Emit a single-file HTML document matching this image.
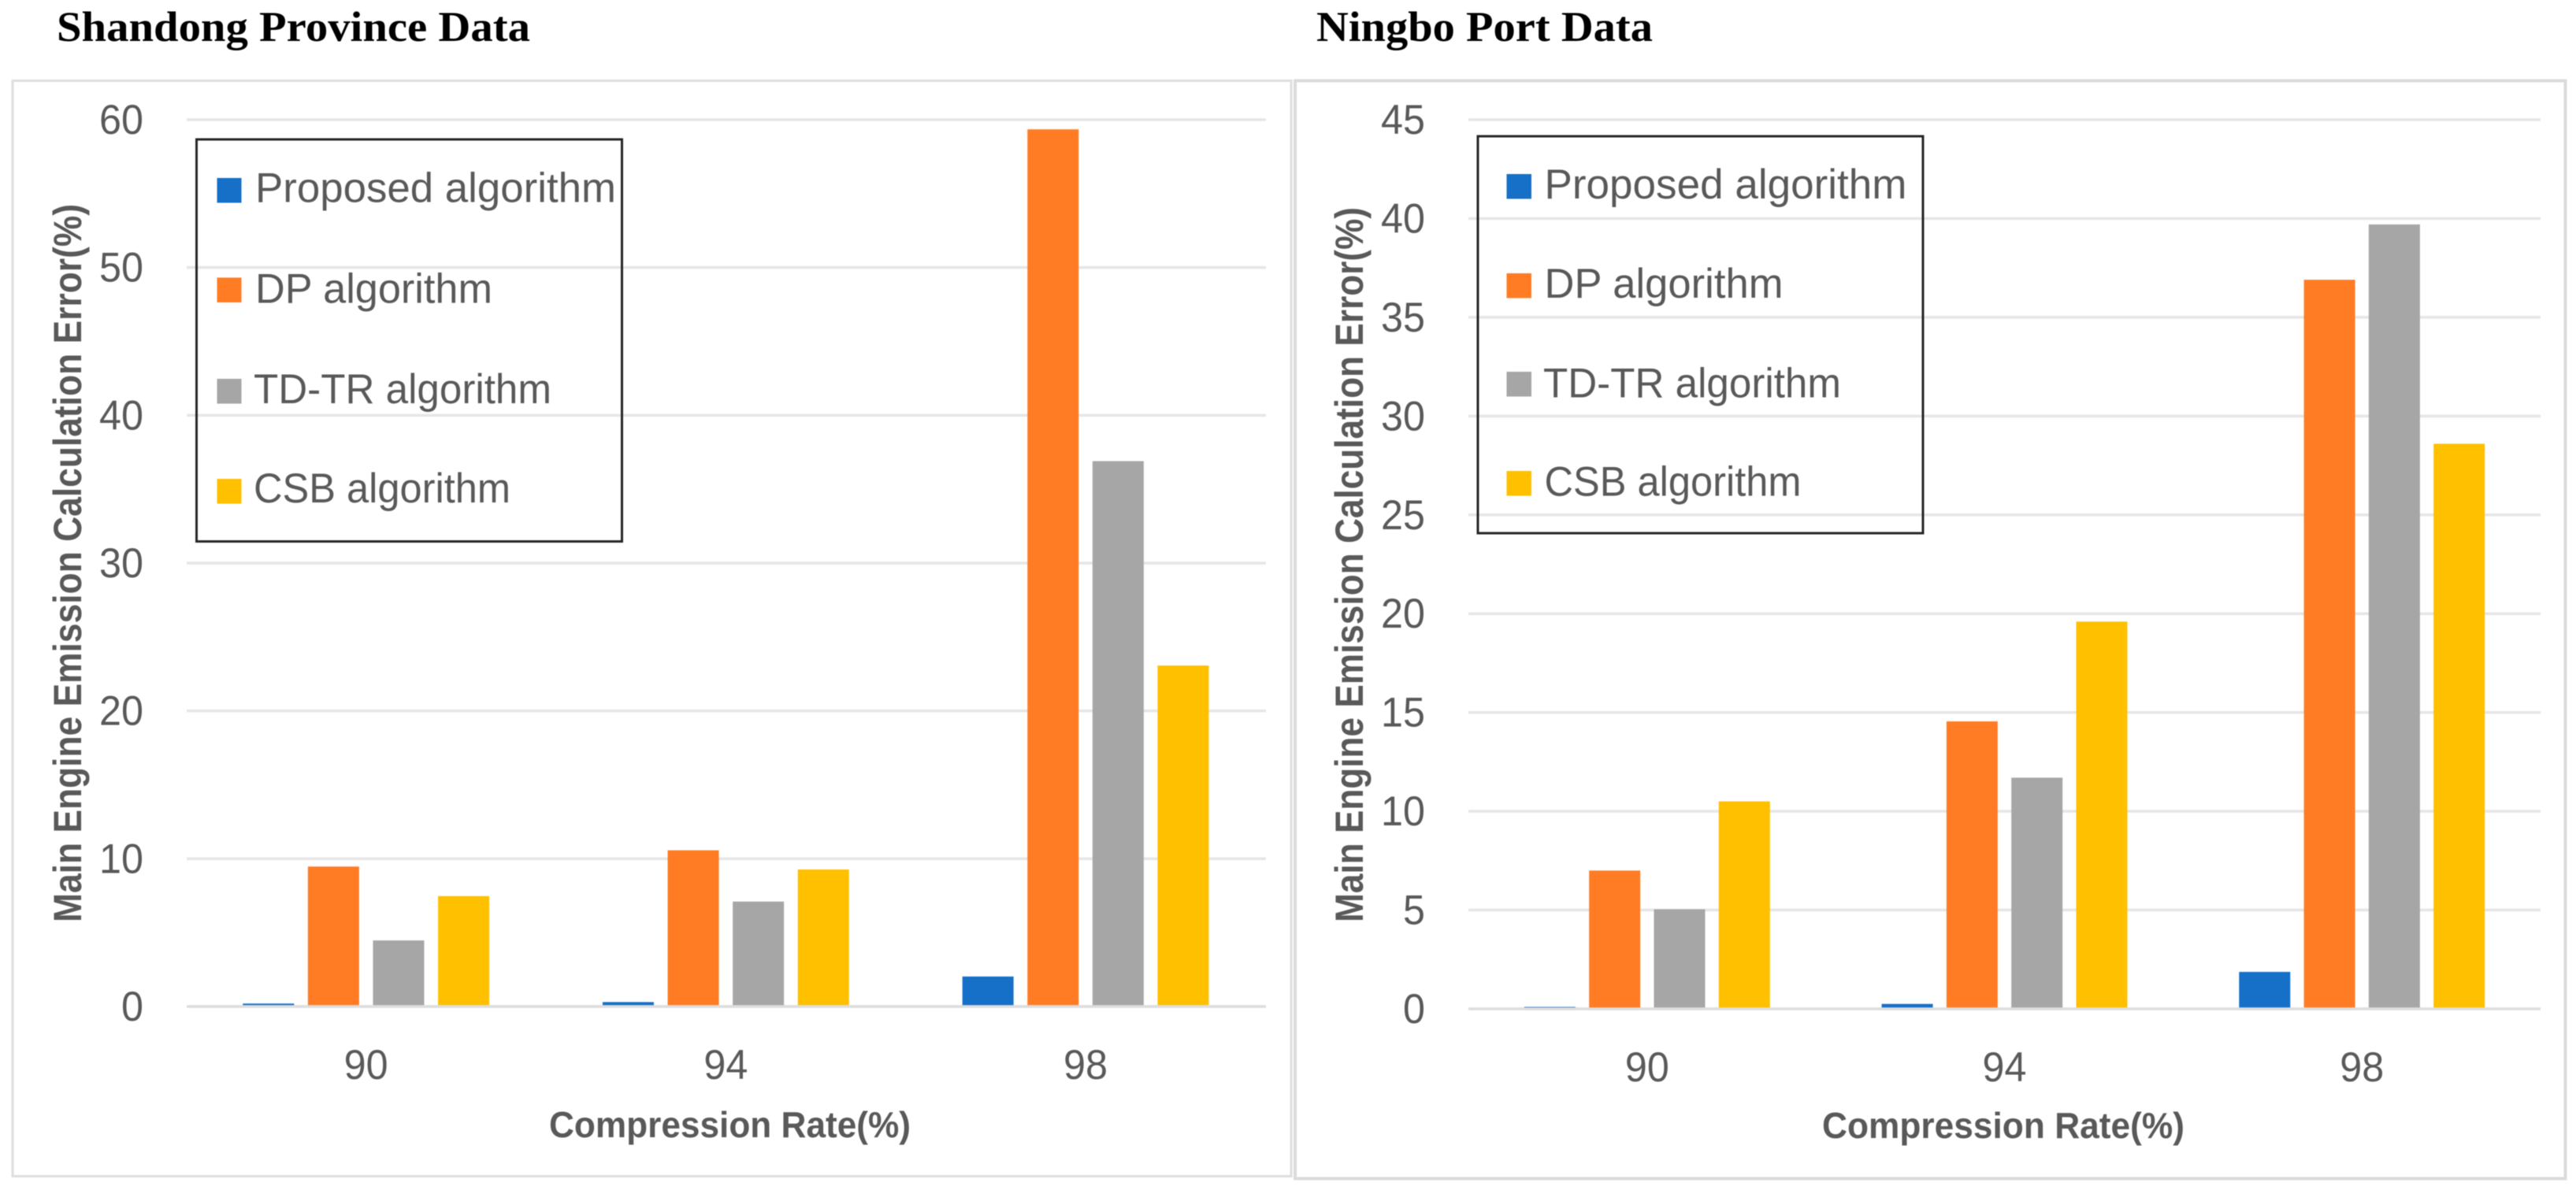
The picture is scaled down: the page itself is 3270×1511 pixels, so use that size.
<!DOCTYPE html>
<html lang="en">
<head>
<meta charset="utf-8">
<title>Main Engine Emission Calculation Error</title>
<style>
  html, body { margin: 0; padding: 0; background: #ffffff; }
  svg { display: block; filter: blur(0.6px); }
  .title { font-family: "Liberation Serif", serif; font-weight: 700; font-size: 54px; fill: #000000; }
  .tick { font-family: "Liberation Sans", sans-serif; font-size: 53px; fill: #595959; }
  .axis-title { font-family: "Liberation Sans", sans-serif; font-weight: 700; fill: #595959; }
  .legend-label { font-family: "Liberation Sans", sans-serif; font-size: 53px; fill: #595959; }
</style>
</head>
<body>
<svg id="figure" xmlns="http://www.w3.org/2000/svg" width="3270" height="1511" viewBox="0 0 3270 1511">
  <rect x="0" y="0" width="3270" height="1511" fill="#ffffff"/>

  <text class="title" x="72" y="52" textLength="601" lengthAdjust="spacingAndGlyphs">Shandong Province Data</text>
  <text class="title" x="1671" y="52" textLength="427" lengthAdjust="spacingAndGlyphs">Ningbo Port Data</text>

  <rect x="16" y="102.5" width="1623" height="1391" fill="#ffffff" stroke="#dedede" stroke-width="3"/>
  <rect x="1644" y="102.5" width="1612.5" height="1394" fill="#ffffff" stroke="#dbdbdb" stroke-width="4"/>

  <g id="shandong-chart"></g>
  <g id="ningbo-chart"></g>

  <text class="axis-title" font-size="50" transform="translate(103 1171) rotate(-90)" textLength="912" lengthAdjust="spacingAndGlyphs">Main Engine Emission Calculation Error(%)</text>
  <text class="axis-title" font-size="50" transform="translate(1730 1171) rotate(-90)" textLength="908" lengthAdjust="spacingAndGlyphs">Main Engine Emission Calculation Error(%)</text>
  <text class="axis-title" font-size="46" x="697" y="1444" textLength="459" lengthAdjust="spacingAndGlyphs">Compression Rate(%)</text>
  <text class="axis-title" font-size="46" x="2313" y="1445" textLength="460" lengthAdjust="spacingAndGlyphs">Compression Rate(%)</text>

  <g>
    <rect x="249.5" y="177" width="540" height="510.5" fill="none" stroke="#262626" stroke-width="3"/>
    <rect x="275.5" y="226" width="31" height="31.5" fill="#1670c8"/>
    <text class="legend-label" x="324" y="256.5" textLength="458" lengthAdjust="spacingAndGlyphs">Proposed algorithm</text>
    <rect x="275.5" y="352.5" width="31" height="31.5" fill="#ff7c24"/>
    <text class="legend-label" x="324" y="384.5" textLength="301" lengthAdjust="spacingAndGlyphs">DP algorithm</text>
    <rect x="275.5" y="481" width="31" height="31.5" fill="#a6a6a6"/>
    <text class="legend-label" x="322" y="512" textLength="378" lengthAdjust="spacingAndGlyphs">TD-TR algorithm</text>
    <rect x="275.5" y="608" width="31" height="31.5" fill="#ffc000"/>
    <text class="legend-label" x="322" y="638" textLength="326" lengthAdjust="spacingAndGlyphs">CSB algorithm</text>
  </g>

  <g>
    <rect x="1876" y="173" width="565" height="504" fill="none" stroke="#262626" stroke-width="3"/>
    <rect x="1912.5" y="221" width="31.5" height="31.5" fill="#1670c8"/>
    <text class="legend-label" x="1960.5" y="252" textLength="460" lengthAdjust="spacingAndGlyphs">Proposed algorithm</text>
    <rect x="1912.5" y="347" width="31.5" height="31.5" fill="#ff7c24"/>
    <text class="legend-label" x="1960.5" y="378" textLength="303" lengthAdjust="spacingAndGlyphs">DP algorithm</text>
    <rect x="1912.5" y="472" width="31.5" height="31.5" fill="#a6a6a6"/>
    <text class="legend-label" x="1959" y="504.5" textLength="378" lengthAdjust="spacingAndGlyphs">TD-TR algorithm</text>
    <rect x="1912.5" y="598" width="31.5" height="31.5" fill="#ffc000"/>
    <text class="legend-label" x="1960.5" y="629.5" textLength="326" lengthAdjust="spacingAndGlyphs">CSB algorithm</text>
  </g>
</svg>

<script>
// Chart data
const categories = ["90", "94", "98"];
const seriesKeys = ["proposed", "dp", "td-tr", "csb"];
const seriesColors = ["#1670c8", "#ff7c24", "#a6a6a6", "#ffc000"];

const shandongTicks = [0, 10, 20, 30, 40, 50, 60];
const shandongProposed = [0.2, 0.3, 2.03];
const shandongDP = [9.47, 10.57, 59.35];
const shandongTDTR = [4.47, 7.1, 36.9];
const shandongCSB = [7.47, 9.27, 23.07];

const ningboTicks = [0, 5, 10, 15, 20, 25, 30, 35, 40, 45];
const ningboProposed = [0.1, 0.25, 1.87];
const ningboDP = [7.0, 14.55, 36.9];
const ningboTDTR = [5.04, 11.7, 39.7];
const ningboCSB = [10.5, 19.6, 28.6];

const SVG_NS = "http://www.w3.org/2000/svg";
const DIGIT_ADVANCE = 28;

function drawChart(layout, prefix, ticks, seriesList) {
  const root = document.getElementById(prefix + "-chart");
  const maxTick = ticks[ticks.length - 1];
  const yScale = function (v) {
    return layout.yZero - (v / maxTick) * (layout.yZero - layout.yTop);
  };
  const band = layout.bandWidth;
  const groupCenter = function (i) {
    return layout.bandStart + (i + 0.5) * band;
  };

  ticks.forEach(function (t) {
    const y = yScale(t);
    const line = document.createElementNS(SVG_NS, "line");
    
    
    line.setAttribute("x1", layout.gridLeft);
    line.setAttribute("x2", layout.gridRight);
    line.setAttribute("y1", y);
    line.setAttribute("y2", y);
    line.setAttribute("stroke", "#e6e6e6");
    line.setAttribute("stroke-width", "3.5");
    root.appendChild(line);

    const label = document.createElementNS(SVG_NS, "text");
    const text = String(t);
    
    
    label.setAttribute("class", "tick");
    label.setAttribute("x", layout.tickRight - text.length * DIGIT_ADVANCE);
    label.setAttribute("y", y + 18);
    label.setAttribute("textLength", text.length * DIGIT_ADVANCE);
    label.setAttribute("lengthAdjust", "spacingAndGlyphs");
    label.textContent = text;
    root.appendChild(label);
  });

  seriesList.forEach(function (values, s) {
    values.forEach(function (v, i) {
      const top = yScale(v);
      const bar = document.createElementNS(SVG_NS, "rect");
      
      
      bar.setAttribute("x", groupCenter(i) + (s - 1.5) * layout.barStep - layout.barWidth / 2);
      bar.setAttribute("y", top);
      bar.setAttribute("width", layout.barWidth);
      bar.setAttribute("height", layout.yZero - top);
      bar.setAttribute("fill", seriesColors[s]);
      root.appendChild(bar);
    });
  });

  const axis = document.createElementNS(SVG_NS, "line");
  
  
  axis.setAttribute("x1", layout.gridLeft);
  axis.setAttribute("x2", layout.gridRight);
  axis.setAttribute("y1", layout.yZero);
  axis.setAttribute("y2", layout.yZero);
  axis.setAttribute("stroke", "#dedede");
  axis.setAttribute("stroke-width", "3.5");
  root.appendChild(axis);

  categories.forEach(function (c, i) {
    const label = document.createElementNS(SVG_NS, "text");
    
    
    label.setAttribute("class", "tick");
    label.setAttribute("x", groupCenter(i) - c.length * DIGIT_ADVANCE / 2);
    label.setAttribute("y", layout.yZero + 92);
    label.setAttribute("textLength", c.length * DIGIT_ADVANCE);
    label.setAttribute("lengthAdjust", "spacingAndGlyphs");
    label.textContent = c;
    root.appendChild(label);
  });
}

drawChart(
  { yTop: 152, yZero: 1278, gridLeft: 237, gridRight: 1607, bandStart: 236.3, bandWidth: 456.7, barStep: 82.6, barWidth: 65, tickRight: 182 },
  "shandong",
  shandongTicks,
  [shandongProposed, shandongDP, shandongTDTR, shandongCSB]
);

drawChart(
  { yTop: 152, yZero: 1281, gridLeft: 1864, gridRight: 3225, bandStart: 1864, bandWidth: 453.7, barStep: 82.3, barWidth: 65, tickRight: 1809 },
  "ningbo",
  ningboTicks,
  [ningboProposed, ningboDP, ningboTDTR, ningboCSB]
);
</script>
</body>
</html>
